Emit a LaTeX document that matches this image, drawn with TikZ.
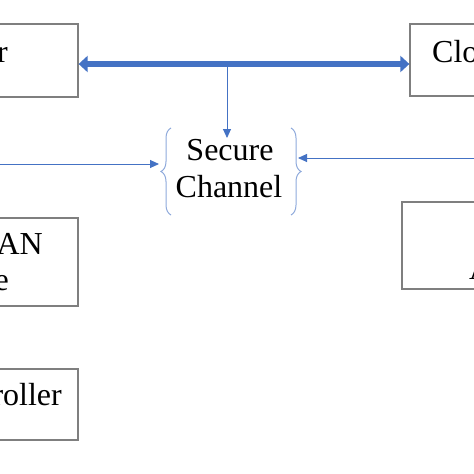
\documentclass[tikz,border=0pt]{standalone}
\usepackage{fontspec}
\setmainfont{Liberation Serif}
\usetikzlibrary{arrows.meta,decorations.pathreplacing}
\definecolor{boxgray}{HTML}{7F7F7F}
\definecolor{arrowblue}{HTML}{4472C4}
\definecolor{bracecol}{HTML}{8EA9DB}
\begin{document}
\begin{tikzpicture}[x=1pt,y=-1pt,
  font=\fontsize{32}{36}\selectfont,
  box/.style={draw=boxgray,line width=1.3pt,minimum width=120pt,inner sep=0pt},
  lbl/.style={inner sep=0pt,text=black},
  thinarrow/.style={draw=arrowblue,line width=0.9pt,-{Triangle[length=9pt,width=8pt]}},
  thickarrow/.style={draw=arrowblue,line width=6pt,{Triangle[length=9pt,width=16pt]}-{Triangle[length=9pt,width=16pt]}},
  bracestyle/.style={draw=bracecol,line width=1pt,decorate,decoration={brace,amplitude=10pt}}]
\path[use as bounding box,clip] (0,0) rectangle (474,474);
% boxes
\node[box,minimum height=73pt] (b1) at (18,60.5) {};
\node[box,minimum height=72pt] (b2) at (470,60) {};
\node[box,minimum height=88pt] (b3) at (18,262) {};
\node[box,minimum height=71pt] (b4) at (18,404.5) {};
\node[box,minimum height=87pt] (b5) at (462,245.5) {};
% visible text fragments
\node[lbl,anchor=base east] (t1) at (8,62) {r};
\node[lbl,anchor=base west] (t2) at (432,62) {Clo};
\node[lbl,anchor=base east] (t3a) at (43,254) {AN};
\node[lbl,anchor=base east] (t3b) at (9,290) {e};
\node[lbl,anchor=base east] (t4) at (62,405) {roller};
\node[lbl,anchor=base west] (t5) at (469,279) {A};
% secure channel
\node[lbl,anchor=base] (sc1) at (230,160) {Secure};
\node[lbl,anchor=base] (sc2) at (229,197) {Channel};
\coordinate (lbTop) at (171,128);
\coordinate (lbBot) at (171,215);
\coordinate (rbTop) at (291,128);
\coordinate (rbBot) at (291,215);
\draw[bracestyle] (lbBot) -- (lbTop);
\draw[bracestyle] (rbTop) -- (rbBot);
% connectors
\draw[thickarrow] ([yshift=-3.5pt]b1.east) -- ([yshift=-4pt]b2.west);
\coordinate (m) at (227,67);
\coordinate (mEnd) at (227,138);
\draw[thinarrow] (m) -- (mEnd);
\coordinate (lin) at (-5,164);
\coordinate (linEnd) at (159,164);
\draw[thinarrow] (lin) -- (linEnd);
\coordinate (rin) at (480,158);
\coordinate (rinEnd) at (298,158);
\draw[thinarrow] (rin) -- (rinEnd);
\end{tikzpicture}
\end{document}
